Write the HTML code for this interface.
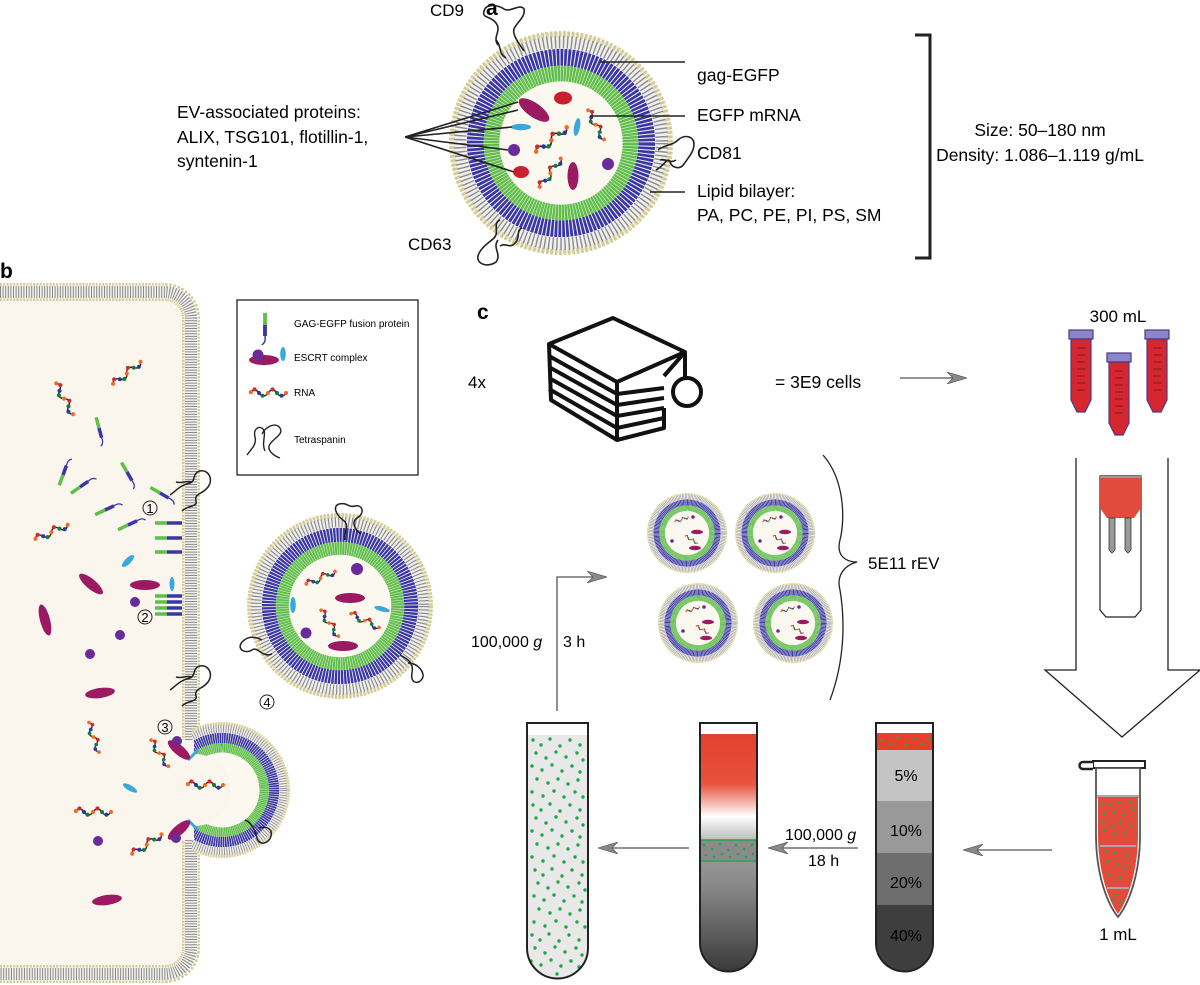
<!DOCTYPE html>
<html><head><meta charset="utf-8"><style>
html,body{margin:0;padding:0;background:#fff;}
svg{display:block;font-family:"Liberation Sans",Arial,sans-serif;}
</style></head><body>
<svg width="1200" height="985" viewBox="0 0 1200 985" xmlns="http://www.w3.org/2000/svg">
<defs>
  <symbol id="rna" overflow="visible">
    <path d="M0,0 q5,-7 10,0 t10,0 t10,0 t10,0" fill="none" stroke="#222" stroke-width="1.6"/>
    <circle cx="1" cy="-1" r="2.3" fill="#f06a2a"/><circle cx="5" cy="-4" r="2.3" fill="#d42a2a"/>
    <circle cx="10" cy="0" r="2.3" fill="#2c3aa0"/><circle cx="14" cy="3" r="2.3" fill="#1a7a3a"/>
    <circle cx="20" cy="0" r="2.3" fill="#f06a2a"/><circle cx="25" cy="-4" r="2.3" fill="#d42a2a"/>
    <circle cx="30" cy="0" r="2.3" fill="#1a7a3a"/><circle cx="35" cy="3" r="2.3" fill="#2c3aa0"/>
    <circle cx="40" cy="0" r="2.3" fill="#f06a2a"/>
  </symbol>
  <symbol id="ves" overflow="visible">
    <circle r="99" fill="#f2f0ea"/>
    <circle r="97.5" fill="none" stroke="#d3cb94" stroke-width="5" pathLength="360" stroke-dasharray="1.4 0.9"/>
    <circle r="90" fill="none" stroke="#8a8a92" stroke-width="11" pathLength="360" stroke-dasharray="0.8 1.5"/>
    <circle r="76.5" fill="none" stroke="#3a36a6" stroke-width="15" pathLength="360" stroke-dasharray="1.8 0.7"/>
    <circle r="62" fill="none" stroke="#5fbf4a" stroke-width="14" pathLength="360" stroke-dasharray="2 0.5"/>
    <circle r="55" fill="#fbf8f0"/>
  </symbol>
  <symbol id="gag" overflow="visible">
    <line x1="0" y1="0" x2="0" y2="-11" stroke="#5fbf4a" stroke-width="3.5"/>
    <line x1="0" y1="0" x2="0" y2="10" stroke="#3a36a6" stroke-width="3.5"/>
    <path d="M0,10 q1,6 -3,8" fill="none" stroke="#3a36a6" stroke-width="1.3"/>
  </symbol>
  <marker id="ah" viewBox="0 0 20 12" refX="18" refY="6" markerWidth="20" markerHeight="12" markerUnits="userSpaceOnUse" orient="auto">
    <path d="M0,0 L20,6 L0,12 L6,6 Z" fill="#888" stroke="#555" stroke-width="0.6"/>
  </marker>
  <linearGradient id="g2" x1="0" y1="0" x2="0" y2="1">
    <stop offset="0" stop-color="#e2402e"/><stop offset="0.2" stop-color="#e8523e"/>
    <stop offset="0.33" stop-color="#fff"/><stop offset="0.47" stop-color="#9a9a9a"/>
    <stop offset="0.6" stop-color="#8a8a8a"/><stop offset="1" stop-color="#2e2e2e"/>
  </linearGradient>
  <clipPath id="budclip"><rect x="192" y="700" width="120" height="180"/></clipPath>
  <clipPath id="t1"><path d="M527,723 H588 V948 A30.5,30.5 0 0 1 527,948 Z"/></clipPath>
  <clipPath id="t2"><path d="M700,723 H757 V943 A28.5,28.5 0 0 1 700,943 Z"/></clipPath>
  <clipPath id="t3"><path d="M876,723 H933 V943 A28.5,28.5 0 0 1 876,943 Z"/></clipPath>
  <clipPath id="ep"><path d="M1098,797 H1138 V835 C1138,870 1128,900 1118,914 C1108,900 1098,870 1098,835 Z"/></clipPath>
</defs>

<!-- PANEL A -->
<text x="486" y="15" font-size="21" font-weight="bold">a</text>
<text x="430" y="16" font-size="17">CD9</text>
<text x="408" y="250" font-size="17">CD63</text>
<g font-size="17.5">
<text x="177" y="118">EV-associated proteins:</text>
<text x="177" y="143">ALIX, TSG101, flotillin-1,</text>
<text x="177" y="167">syntenin-1</text>
</g>
<g transform="translate(561,143) scale(1.12)"><use href="#ves"/></g>
<g stroke="#222" stroke-width="1.6" fill="none">
<path d="M498,45 c-6,-8 4,-14 -2,-22 c-6,-8 -14,-4 -12,-12 c2,-8 14,-6 20,-2 c6,4 16,-6 20,0 c2,8 -8,14 -10,20 c-2,6 6,16 10,22 M496,40 c6,6 2,14 10,18"/>
<path d="M658,150 c8,-6 14,-4 20,-10 c6,-6 16,-4 16,4 c0,8 -6,14 -10,20 c-4,6 -12,4 -14,-2 c-2,-6 -6,4 -14,8 M660,160 c6,-2 10,4 16,0"/>
<path d="M498,240 c-6,8 4,14 -2,22 c-8,6 -20,2 -18,-6 c2,-8 12,-14 16,-18 c6,-6 -2,-14 6,-18 M500,246 c6,-4 10,4 16,-4 c4,-4 0,-12 6,-14"/>
</g>
<ellipse cx="534" cy="110" rx="18" ry="7" transform="rotate(35 534 110)" fill="#9b1a62"/>
<ellipse cx="563" cy="98" rx="9" ry="6.5" fill="#c8202c"/>
<ellipse cx="521" cy="127" rx="10" ry="3.2" fill="#3aa8dc"/>
<ellipse cx="577" cy="127" rx="3" ry="9" transform="rotate(10 577 127)" fill="#3aa8dc"/>
<circle cx="514" cy="150" r="6" fill="#6a2a9a"/>
<ellipse cx="521" cy="172" rx="8" ry="6" fill="#c8202c"/>
<ellipse cx="573" cy="176" rx="5.5" ry="14" fill="#9b1a62"/>
<circle cx="608" cy="164" r="6" fill="#6a2a9a"/>
<use href="#rna" transform="translate(536,153) rotate(-40)"/>
<use href="#rna" transform="translate(540,188) rotate(-55) scale(0.9)"/>
<use href="#rna" transform="translate(587,110) rotate(60) scale(0.85)"/>
<g stroke="#222" stroke-width="1.6" fill="none">
<path d="M405,137 L518,102 M405,137 L512,127 M405,137 L508,150 M405,137 L514,172 M405,137 L518,110"/>
<path d="M600,62 H685 M590,116 H685 M650,192 H685"/>
<path d="M915,35 H930 V258 H915" stroke-width="3"/>
</g>
<g font-size="17.5">
<text x="697" y="81">gag-EGFP</text>
<text x="697" y="121">EGFP mRNA</text>
<text x="697" y="159">CD81</text>
<text x="697" y="197">Lipid bilayer:</text>
<text x="697" y="221">PA, PC, PE, PI, PS, SM</text>
<text x="1040" y="136" text-anchor="middle">Size: 50–180 nm</text>
<text x="1040" y="161" text-anchor="middle">Density: 1.086–1.119 g/mL</text>
</g>

<!-- PANEL B -->
<text x="0" y="278" font-size="21" font-weight="bold">b</text>
<path d="M0,297 H163 A22,22 0 0 1 185,319 V950 A22,22 0 0 1 163,972 H0 Z" fill="#faf6ee"/>
<path d="M0,292 H165 A26,26 0 0 1 191,318 V948 A26,26 0 0 1 165,974 H0" fill="none" stroke="#d3cb94" stroke-width="18" stroke-dasharray="2 1.3"/>
<path d="M0,292 H165 A26,26 0 0 1 191,318 V948 A26,26 0 0 1 165,974 H0" fill="none" stroke="#f4f2ec" stroke-width="13"/>
<path d="M0,292 H165 A26,26 0 0 1 191,318 V948 A26,26 0 0 1 165,974 H0" fill="none" stroke="#888" stroke-width="12" stroke-dasharray="1 1.6"/>
<!-- bud -->
<g clip-path="url(#budclip)"><g transform="translate(222,790) scale(0.68)"><use href="#ves"/></g></g>
<rect x="180" y="740" width="14" height="100" fill="#faf6ee"/>
<circle cx="195" cy="790" r="36" fill="#faf6ee"/>
<line x1="188" y1="760" x2="198" y2="750" stroke="#3aa8dc" stroke-width="3"/>
<line x1="188" y1="820" x2="198" y2="830" stroke="#3aa8dc" stroke-width="3"/>
<ellipse cx="179" cy="750" rx="14" ry="5" transform="rotate(40 179 750)" fill="#9b1a62"/>
<ellipse cx="179" cy="830" rx="14" ry="5" transform="rotate(-40 179 830)" fill="#9b1a62"/>
<circle cx="177" cy="741" r="5" fill="#6a2a9a"/><circle cx="176" cy="838" r="5" fill="#6a2a9a"/>
<use href="#rna" transform="translate(187,785) scale(0.9)"/>
<path d="M245,820 c6,2 10,10 12,18 c2,8 12,6 14,-2 c2,-8 -6,-10 -12,-8" fill="none" stroke="#222" stroke-width="1.5"/>
<!-- legend -->
<rect x="237" y="300" width="181" height="175" fill="#fff" stroke="#222" stroke-width="1.3"/>
<g transform="translate(265,325) scale(1.1)"><use href="#gag"/></g>
<text x="294" y="327" font-size="10">GAG-EGFP fusion protein</text>
<ellipse cx="264" cy="360" rx="15" ry="5" fill="#9b1a62"/><circle cx="258" cy="355" r="5.5" fill="#6a2a9a"/>
<ellipse cx="283" cy="354" rx="2.8" ry="7" fill="#3aa8dc"/>
<text x="294" y="361" font-size="10">ESCRT complex</text>
<use href="#rna" transform="translate(250,393) scale(0.9)"/>
<text x="294" y="396" font-size="10">RNA</text>
<path d="M247,455 c4,-6 10,-10 8,-18 c-2,-8 4,-12 8,-8 c4,4 -2,14 2,22 M262,434 c4,-8 14,-12 18,-6 c4,6 -6,10 -10,16 c-4,6 4,12 10,14" fill="none" stroke="#222" stroke-width="1.4"/>
<text x="294" y="443" font-size="10">Tetraspanin</text>
<!-- cell contents -->
<use href="#rna" transform="translate(55,383) rotate(60) scale(0.9)"/>
<use href="#rna" transform="translate(113,385) rotate(-40) scale(0.9)"/>
<use href="#rna" transform="translate(35,540) rotate(-25) scale(0.9)"/>
<use href="#gag" transform="translate(99,428) rotate(-15)"/>
<use href="#gag" transform="translate(63,475) rotate(200)"/>
<use href="#gag" transform="translate(80,487) rotate(235)"/>
<use href="#gag" transform="translate(127,472) rotate(-30)"/>
<use href="#gag" transform="translate(105,510) rotate(-115)"/>
<use href="#gag" transform="translate(128,525) rotate(-115)"/>
<use href="#gag" transform="translate(160,493) rotate(-60)"/>
<g stroke-width="3.5">
<line x1="155" y1="523" x2="167" y2="523" stroke="#5fbf4a"/><line x1="167" y1="523" x2="182" y2="523" stroke="#3a36a6"/>
<line x1="155" y1="538" x2="167" y2="538" stroke="#5fbf4a"/><line x1="167" y1="538" x2="182" y2="538" stroke="#3a36a6"/>
<line x1="155" y1="552" x2="167" y2="552" stroke="#5fbf4a"/><line x1="167" y1="552" x2="182" y2="552" stroke="#3a36a6"/>
<line x1="155" y1="596" x2="167" y2="596" stroke="#5fbf4a"/><line x1="167" y1="596" x2="182" y2="596" stroke="#3a36a6"/>
<line x1="155" y1="602" x2="167" y2="602" stroke="#5fbf4a"/><line x1="167" y1="602" x2="182" y2="602" stroke="#3a36a6"/>
<line x1="155" y1="608" x2="167" y2="608" stroke="#5fbf4a"/><line x1="167" y1="608" x2="182" y2="608" stroke="#3a36a6"/>
<line x1="155" y1="614" x2="167" y2="614" stroke="#5fbf4a"/><line x1="167" y1="614" x2="182" y2="614" stroke="#3a36a6"/>
</g>
<ellipse cx="172" cy="584" rx="2.5" ry="7" fill="#3aa8dc"/>
<ellipse cx="128" cy="561" rx="3" ry="8" transform="rotate(45 128 561)" fill="#3aa8dc"/>
<ellipse cx="91" cy="584" rx="15" ry="5" transform="rotate(40 91 584)" fill="#9b1a62"/>
<ellipse cx="145" cy="585" rx="15" ry="5" fill="#9b1a62"/>
<ellipse cx="45" cy="620" rx="16" ry="5" transform="rotate(75 45 620)" fill="#9b1a62"/>
<circle cx="135" cy="602" r="5" fill="#6a2a9a"/><circle cx="120" cy="635" r="5" fill="#6a2a9a"/><circle cx="90" cy="654" r="5" fill="#6a2a9a"/>
<ellipse cx="100" cy="693" rx="15" ry="5" transform="rotate(-8 100 693)" fill="#9b1a62"/>
<use href="#rna" transform="translate(88,722) rotate(70) scale(0.8)"/>
<use href="#rna" transform="translate(150,740) rotate(55) scale(0.8)"/>
<ellipse cx="130" cy="788" rx="8" ry="2.8" transform="rotate(30 130 788)" fill="#3aa8dc"/>
<use href="#rna" transform="translate(75,812) scale(0.9)"/>
<circle cx="98" cy="841" r="5" fill="#6a2a9a"/>
<use href="#rna" transform="translate(132,855) rotate(-35) scale(0.9)"/>
<ellipse cx="107" cy="900" rx="15" ry="5" transform="rotate(-8 107 900)" fill="#9b1a62"/>
<g stroke="#222" stroke-width="1.5" fill="none">
<path d="M170,495 c6,-4 10,-10 20,-12 c6,-2 2,-10 10,-12 c8,-2 14,8 8,16 c-6,8 -14,6 -12,14 c2,6 -8,4 -14,10 M176,482 c6,2 10,-2 16,0"/>
<path d="M170,690 c6,-4 10,-10 20,-12 c6,-2 2,-10 10,-12 c8,-2 14,8 8,16 c-6,8 -14,6 -12,14 c2,6 -8,4 -14,10 M176,677 c6,2 10,-2 16,0"/>
</g>
<g font-size="13"><circle cx="150" cy="508" r="7" fill="none" stroke="#222"/><text x="150" y="513" text-anchor="middle">1</text>
<circle cx="145" cy="617" r="7" fill="none" stroke="#222"/><text x="145" y="622" text-anchor="middle">2</text>
<circle cx="165" cy="727" r="7" fill="none" stroke="#222"/><text x="165" y="732" text-anchor="middle">3</text>
<circle cx="267" cy="702" r="7" fill="none" stroke="#222"/><text x="267" y="707" text-anchor="middle">4</text></g>
<!-- released vesicle -->
<g transform="translate(340,606) scale(0.93)"><use href="#ves"/></g>
<circle cx="357" cy="569" r="6" fill="#6a2a9a"/>
<ellipse cx="350" cy="598" rx="15" ry="5" fill="#9b1a62"/>
<ellipse cx="343" cy="646" rx="15" ry="5" fill="#9b1a62"/>
<ellipse cx="293" cy="605" rx="2.8" ry="8" fill="#3aa8dc"/>
<ellipse cx="382" cy="609" rx="8" ry="2.5" transform="rotate(15 382 609)" fill="#3aa8dc"/>
<circle cx="306" cy="633" r="5.5" fill="#6a2a9a"/>
<use href="#rna" transform="translate(306,585) rotate(-25) scale(0.8)"/>
<use href="#rna" transform="translate(320,610) rotate(55) scale(0.8)"/>
<use href="#rna" transform="translate(350,614) rotate(25) scale(0.8)"/>
<g stroke="#222" stroke-width="1.5" fill="none">
<path d="M345,540 c-2,-8 6,-14 -2,-20 c-8,-6 -10,-14 -4,-16 c8,-2 10,4 16,2 c8,-2 10,8 2,12 c-6,4 -2,12 4,16"/>
<path d="M262,640 c-8,-4 -14,-4 -20,2 c-6,8 4,12 10,8 c6,-4 10,8 20,4"/>
<path d="M400,655 c8,4 14,8 12,18 c-2,10 6,12 10,6 c4,-6 -4,-16 -14,-16"/>
</g>

<!-- PANEL C -->
<text x="477" y="319" font-size="21" font-weight="bold">c</text>
<text x="468" y="388" font-size="17">4x</text>
<g fill="none" stroke="#111" stroke-width="4" stroke-linejoin="round">
<path d="M549,344 L613,318 L685,352 L617,382 Z"/>
<path d="M549,344 L551,400 L617,440"/>
<path d="M617,382 L617,440 L664,428 L664,408"/>
<path d="M685,352 L685,380 M664,376 L685,352"/>
<path d="M549,356 L617,394 L664,388 M549,367 L617,405 L664,398 M549,378 L617,416 L664,408 M549,389 L617,428 L664,418"/>
<circle cx="687" cy="392" r="14" fill="#fff"/>
</g>
<text x="775" y="388" font-size="17.5">= 3E9 cells</text>
<line x1="900" y1="378" x2="965" y2="378" stroke="#555" stroke-width="1.3" marker-end="url(#ah)"/>
<text x="1118" y="322" font-size="17" text-anchor="middle">300 mL</text>
<!-- falcon tubes -->
<g id="falcon" stroke="#4a3a8a" stroke-width="1.2">
<rect x="1069" y="330" width="24" height="9" fill="#8a86c8"/>
<path d="M1071,339 H1091 V400 L1085,412 H1077 L1071,400 Z" fill="#d6262e"/>
<path d="M1077,348 h8 M1077,355 h8 M1077,362 h8 M1077,369 h8 M1077,376 h8 M1077,383 h8 M1077,390 h8" stroke="#8a2030"/>
</g>
<use href="#falcon" transform="translate(38,23)"/>
<use href="#falcon" transform="translate(76,0)"/>
<!-- big hollow arrow -->
<path d="M1076,458 V670 H1045 L1122,737 L1200,670 H1168 V458" fill="#fff" stroke="#222" stroke-width="1.3"/>
<!-- filter -->
<path d="M1100,476 H1141 V610 L1135,617 H1106 L1100,610 Z" fill="#fff" stroke="#222" stroke-width="1.2"/>
<path d="M1100,476 H1141 V508 L1134,518 H1107 L1100,508 Z" fill="#e24a3c"/>
<line x1="1100" y1="477" x2="1141" y2="477" stroke="#999" stroke-width="2"/>
<path d="M1109,518 h6 v32 l-3,3 l-3,-3 Z" fill="#999" stroke="#333" stroke-width="0.8"/>
<path d="M1125,518 h6 v32 l-3,3 l-3,-3 Z" fill="#999" stroke="#333" stroke-width="0.8"/>
<!-- eppendorf -->
<rect x="1093" y="761" width="52" height="7" fill="#fff" stroke="#222" stroke-width="2"/>
<path d="M1093,762 h-10 a3.5,3.5 0 0 0 0,7 h10" fill="#fff" stroke="#222" stroke-width="2.5"/>
<path d="M1096,768 H1140 V835 C1140,872 1130,902 1118,917 C1106,902 1096,872 1096,835 Z" fill="#fff" stroke="#555" stroke-width="1.8"/>
<rect x="1097" y="795" width="42" height="3" fill="#aaa"/>
<g clip-path="url(#ep)">
<rect x="1090" y="797" width="60" height="130" fill="#e24a3c"/>
<g fill="#1fa84a">
<circle cx="1102" cy="804" r="1.4"/><circle cx="1110" cy="805" r="1.4"/><circle cx="1119" cy="803" r="1.4"/><circle cx="1130" cy="802" r="1.4"/>
<circle cx="1104" cy="814" r="1.4"/><circle cx="1114" cy="812" r="1.4"/><circle cx="1124" cy="815" r="1.4"/><circle cx="1133" cy="810" r="1.4"/>
<circle cx="1103" cy="822" r="1.4"/><circle cx="1112" cy="826" r="1.4"/><circle cx="1120" cy="822" r="1.4"/><circle cx="1131" cy="826" r="1.4"/>
<circle cx="1104" cy="830" r="1.4"/><circle cx="1115" cy="834" r="1.4"/><circle cx="1125" cy="832" r="1.4"/>
<circle cx="1106" cy="851" r="1.4"/><circle cx="1115" cy="853" r="1.4"/><circle cx="1126" cy="856" r="1.4"/>
<circle cx="1108" cy="861" r="1.4"/><circle cx="1118" cy="864" r="1.4"/><circle cx="1125" cy="868" r="1.4"/>
<circle cx="1110" cy="875" r="1.4"/><circle cx="1120" cy="877" r="1.4"/><circle cx="1116" cy="895" r="1.4"/><circle cx="1120" cy="902" r="1.4"/><circle cx="1112" cy="900" r="1.4"/>
</g>
<line x1="1100" y1="846" x2="1136" y2="846" stroke="#aaa" stroke-width="2"/>
<line x1="1107" y1="888" x2="1129" y2="888" stroke="#aaa" stroke-width="2"/>
</g>
<text x="1118" y="940" font-size="17" text-anchor="middle">1 mL</text>

<!-- small vesicles -->
<g transform="translate(687,533) scale(0.4)"><use href="#ves"/></g>
<g transform="translate(775,533) scale(0.4)"><use href="#ves"/></g>
<g transform="translate(698,623) scale(0.4)"><use href="#ves"/></g>
<g transform="translate(793,623) scale(0.4)"><use href="#ves"/></g>
<g id="svc">
<ellipse cx="697" cy="532" rx="6" ry="2.2" fill="#9b1a62"/><ellipse cx="695" cy="548" rx="6" ry="2.2" fill="#9b1a62"/>
<circle cx="693" cy="517" r="1.8" fill="#6a2a9a"/><circle cx="672" cy="541" r="1.8" fill="#6a2a9a"/>
<use href="#rna" transform="translate(675,522) rotate(-20) scale(0.35)"/>
<use href="#rna" transform="translate(685,536) rotate(30) scale(0.35)"/>
</g>
<use href="#svc" transform="translate(88,0)"/>
<use href="#svc" transform="translate(11,90)"/>
<use href="#svc" transform="translate(106,90)"/>
<path d="M823,455 C845,480 845,520 840,540 C836,555 845,562 857,562 C845,565 836,575 840,590 C845,620 845,660 830,700" fill="none" stroke="#222" stroke-width="1.3"/>
<text x="868" y="569" font-size="17">5E11 rEV</text>

<!-- up arrow -->
<path d="M557,711 V577 H605" fill="none" stroke="#555" stroke-width="1.3" marker-end="url(#ah)"/>
<text x="471" y="647" font-size="16">100,000 <tspan font-style="italic">g</tspan></text>
<text x="563" y="647" font-size="16">3 h</text>

<!-- tubes -->
<g clip-path="url(#t1)"><rect x="527" y="735" width="61" height="250" fill="#e8e8e8"/>
<g fill="#1fa84a" id="dots">
<circle cx="533" cy="740" r="1.7"/><circle cx="541" cy="745" r="1.7"/><circle cx="550" cy="739" r="1.7"/><circle cx="560" cy="746" r="1.7"/><circle cx="570" cy="740" r="1.7"/><circle cx="580" cy="745" r="1.7"/>
<circle cx="536" cy="753" r="1.7"/><circle cx="546" cy="758" r="1.7"/><circle cx="556" cy="752" r="1.7"/><circle cx="566" cy="757" r="1.7"/><circle cx="577" cy="753" r="1.7"/><circle cx="583" cy="760" r="1.7"/>
<circle cx="532" cy="766" r="1.7"/><circle cx="542" cy="770" r="1.7"/><circle cx="552" cy="765" r="1.7"/><circle cx="562" cy="771" r="1.7"/><circle cx="572" cy="766" r="1.7"/><circle cx="580" cy="772" r="1.7"/>
<circle cx="537" cy="779" r="1.7"/><circle cx="548" cy="783" r="1.7"/><circle cx="558" cy="779" r="1.7"/><circle cx="568" cy="784" r="1.7"/><circle cx="578" cy="780" r="1.7"/>
<circle cx="532" cy="792" r="1.7"/><circle cx="543" cy="796" r="1.7"/><circle cx="554" cy="791" r="1.7"/><circle cx="564" cy="797" r="1.7"/><circle cx="575" cy="792" r="1.7"/><circle cx="583" cy="797" r="1.7"/>
</g>
<use href="#dots" transform="translate(0,65)"/><use href="#dots" transform="translate(2,130)"/><use href="#dots" transform="translate(-1,195)"/>
</g>
<path d="M527,723 H588 V948 A30.5,30.5 0 0 1 527,948 Z" fill="none" stroke="#222" stroke-width="2"/>

<g clip-path="url(#t2)"><rect x="700" y="734" width="57" height="250" fill="url(#g2)"/>
<rect x="700" y="840" width="57" height="21" fill="#8a8a8a" stroke="#1fa84a" stroke-width="1.5"/>
<g fill="#1fa84a"><circle cx="704" cy="845" r="1.3"/><circle cx="712" cy="849" r="1.3"/><circle cx="720" cy="844" r="1.3"/><circle cx="728" cy="850" r="1.3"/><circle cx="736" cy="845" r="1.3"/><circle cx="744" cy="849" r="1.3"/><circle cx="752" cy="845" r="1.3"/>
<circle cx="706" cy="855" r="1.3"/><circle cx="714" cy="857" r="1.3"/><circle cx="722" cy="854" r="1.3"/><circle cx="730" cy="857" r="1.3"/><circle cx="738" cy="854" r="1.3"/><circle cx="746" cy="857" r="1.3"/><circle cx="753" cy="854" r="1.3"/></g>
</g>
<path d="M700,723 H757 V943 A28.5,28.5 0 0 1 700,943 Z" fill="none" stroke="#222" stroke-width="2"/>

<g clip-path="url(#t3)">
<rect x="876" y="733" width="57" height="17" fill="#e3402e"/>
<rect x="876" y="750" width="57" height="51" fill="#c4c4c4"/>
<rect x="876" y="801" width="57" height="52" fill="#999"/>
<rect x="876" y="853" width="57" height="52" fill="#6e6e6e"/>
<rect x="876" y="905" width="57" height="80" fill="#3e3e3e"/>
<g fill="#1fa84a"><circle cx="882" cy="740" r="1.3"/><circle cx="890" cy="744" r="1.3"/><circle cx="898" cy="738" r="1.3"/><circle cx="906" cy="745" r="1.3"/><circle cx="914" cy="739" r="1.3"/><circle cx="922" cy="744" r="1.3"/><circle cx="928" cy="739" r="1.3"/></g>
</g>
<path d="M876,723 H933 V943 A28.5,28.5 0 0 1 876,943 Z" fill="none" stroke="#222" stroke-width="2"/>
<g font-size="16" text-anchor="middle"><text x="906" y="781">5%</text><text x="906" y="836">10%</text><text x="906" y="888">20%</text><text x="906" y="941">40%</text></g>

<line x1="1052" y1="850" x2="965" y2="850" stroke="#555" stroke-width="1.3" marker-end="url(#ah)"/>
<line x1="858" y1="848" x2="770" y2="848" stroke="#555" stroke-width="1.3" marker-end="url(#ah)"/>
<line x1="689" y1="848" x2="600" y2="848" stroke="#555" stroke-width="1.3" marker-end="url(#ah)"/>
<text x="785" y="840" font-size="16">100,000 <tspan font-style="italic">g</tspan></text>
<text x="808" y="866" font-size="16">18 h</text>
</svg>
</body></html>
